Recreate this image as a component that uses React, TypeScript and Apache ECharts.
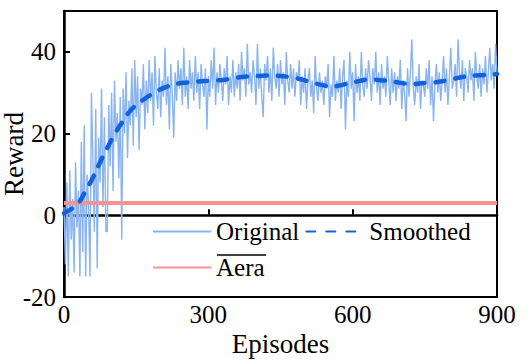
import React, { useEffect, useRef } from 'react';
import * as echarts from 'echarts';

const ORIGINAL_STEP = 3;
const ORIGINAL = [
  2, -12, 8, -15, 11, -6, 4, -14, 13, -3,
  6, -15, 18, -9, 22, -15, 10, 3, -15, 30,
  14, -4, 26, -13, 19, 8, 31, 2, 24, -4,
  -4, 27, 12, 30, 6, 33, 18, 25, 9, 29,
  -6, 31, 20, 35, 14, 28, 22, 36, 17, 38,
  24, 34, 16, 31, 27, 37, 21, 33, 25, 38,
  28, 35, 22, 39, 30, 26, 36, 24, 33, 29,
  41, 27, 34, 21, 37, 30, 19, 35, 28, 38,
  31, 36, 27, 41, 29, 34, 26, 38, 31, 35,
  28, 39, 30, 35, 26, 37, 32, 29, 36, 21,
  34, 29, 38, 31, 41, 27, 35, 30, 37, 33,
  28, 36, 32, 39, 27, 34, 30, 38, 29, 35,
  31, 37, 28, 40, 33, 36, 29, 42, 32, 35,
  30, 38, 34, 27, 42, 31, 36, 29, 24, 37,
  33, 39, 30, 36, 28, 41, 34, 31, 37, 29,
  38, 32, 35, 27, 40, 33, 30, 37, 31, 36,
  29, 35, 33, 38, 27, 34, 30, 36, 26, 33,
  36, 29, 33, 25, 39, 31, 28, 35, 30, 33,
  27, 34, 31, 37, 24, 32, 29, 39, 28, 33,
  30, 36, 26, 34, 38, 21, 33, 29, 40, 31,
  35, 23, 37, 30, 34, 28, 40, 32, 29, 36,
  31, 38, 34, 28, 36, 32, 40, 30, 35, 27,
  37, 31, 34, 29, 39, 33, 27, 36, 30, 35,
  28, 34, 31, 38, 26, 33, 30, 23, 36, 29,
  35, 43, 31, 27, 34, 30, 37, 26, 33, 32,
  29, 36, 31, 38, 27, 34, 23, 32, 37, 30,
  35, 28, 33, 39, 30, 36, 27, 34, 41, 31,
  33, 37, 29, 43, 35, 31, 38, 28, 36, 34,
  30, 38, 33, 36, 28, 40, 34, 31, 37, 29,
  36, 32, 39, 30, 35, 41, 33, 37, 31, 42, 35,
];

const SMOOTHED_STEP = 15;
const SMOOTHED = [
  0.5, 1.5, 3.0, 6.0, 9.2, 13.0, 16.5, 19.8, 22.6, 25.2,
  27.0, 28.3, 29.5, 30.5, 31.3, 31.9, 32.3, 32.5, 32.7, 32.8,
  32.9, 33.0, 33.1, 33.4, 33.7, 33.9, 34.0, 34.1, 34.2, 34.2,
  34.1, 33.9, 33.6, 33.2, 32.7, 32.2, 31.8, 31.5, 31.7, 32.1,
  32.5, 32.9, 33.2, 33.2, 33.0, 32.9, 32.6, 32.3, 32.1, 32.2,
  32.4, 32.5, 32.7, 33.0, 33.4, 33.8, 34.0, 34.2, 34.3, 34.4,
  34.6,
];

const AERA_LEVEL = 3;
const X_RANGE = [0, 900];
const X_INTERVAL = 300;
const Y_RANGE = [-20, 50];
const Y_INTERVAL = 20;

const FONT = "'Times New Roman', 'Liberation Serif', serif";

export default function App() {
  const ref = useRef<HTMLDivElement>(null);
  useEffect(() => {
    if (!ref.current) return;
    document.body.style.margin = '0';
    const chart = echarts.init(ref.current, undefined, { renderer: 'svg' });
    const originalData = ORIGINAL.map((v, i) => [i * ORIGINAL_STEP, v]);
    const smoothedData = SMOOTHED.map((v, i) => [i * SMOOTHED_STEP, v]);
    const aeraData = [
      [X_RANGE[0], AERA_LEVEL],
      [X_RANGE[1], AERA_LEVEL],
    ];
    const legendText = { fontSize: 25, fontFamily: FONT, color: '#000' };
    chart.setOption({
      animation: false,
      backgroundColor: '#ffffff',
      grid: {
        left: 64,
        right: 35,
        top: 11,
        bottom: 66,
        containLabel: false,
        outerBoundsMode: 'none',
        show: true,
        borderColor: '#000',
        borderWidth: 2,
      },
      legend: [
        {
          data: [
            { name: 'Original', lineStyle: { width: 2 } },
            { name: 'Smoothed' },
          ],
          left: 152,
          top: 219,
          padding: 0,
          itemWidth: 58,
          itemHeight: 14,
          itemGap: 6,
          itemStyle: { opacity: 0 },
          textStyle: legendText,
        },
        {
          data: [{ name: 'Aera' }],
          left: 152,
          top: 255,
          padding: 0,
          itemWidth: 58,
          itemHeight: 14,
          itemStyle: { opacity: 0 },
          textStyle: legendText,
        },
      ],
      xAxis: {
        type: 'value',
        min: X_RANGE[0],
        max: X_RANGE[1],
        interval: X_INTERVAL,
        name: 'Episodes',
        nameLocation: 'middle',
        nameGap: 33,
        nameMoveOverlap: false,
        nameTextStyle: { fontSize: 27, fontFamily: FONT, color: '#000' },
        axisLine: { lineStyle: { color: '#000', width: 2.5 } },
        axisTick: { inside: true, length: 6, lineStyle: { color: '#000', width: 2 } },
        axisLabel: { fontSize: 25, fontFamily: FONT, color: '#000', margin: 5 },
        splitLine: { show: false },
      },
      yAxis: {
        type: 'value',
        min: Y_RANGE[0],
        max: Y_RANGE[1],
        interval: Y_INTERVAL,
        name: 'Reward',
        nameLocation: 'middle',
        nameGap: 37,
        nameMoveOverlap: false,
        nameTextStyle: { fontSize: 27, lineHeight: 26, fontFamily: FONT, color: '#000' },
        axisLine: { lineStyle: { color: '#000', width: 2.5 } },
        axisTick: { inside: true, length: 6, lineStyle: { color: '#000', width: 2 } },
        axisLabel: {
          fontSize: 25,
          fontFamily: FONT,
          color: '#000',
          margin: 8,
          showMaxLabel: false,
        },
        splitLine: { show: false },
      },
      series: [
        {
          name: 'Original',
          type: 'line',
          data: originalData,
          symbol: 'none',
          z: 2,
          itemStyle: { color: '#89b4ef' },
          lineStyle: { color: '#89b4ef', width: 1.4 },
        },
        {
          name: 'Aera',
          type: 'line',
          data: aeraData,
          symbol: 'none',
          z: 3,
          itemStyle: { color: '#f99292' },
          lineStyle: { color: '#f99292', width: 4 },
        },
        {
          name: 'Smoothed',
          type: 'line',
          data: smoothedData,
          symbol: 'none',
          smooth: true,
          z: 4,
          itemStyle: { color: '#1262dc' },
          lineStyle: { color: '#1262dc', width: 4.5, type: [9, 11], cap: 'round' },
        },
      ],
      graphic: [
        {
          type: 'line',
          shape: { x1: 217, y1: 255, x2: 266, y2: 255 },
          style: { stroke: '#000', lineWidth: 1.5 },
          silent: true,
        },
      ],
    });
    return () => chart.dispose();
  }, []);
  return <div ref={ref} style={{ width: 532, height: 363 }} />;
}
